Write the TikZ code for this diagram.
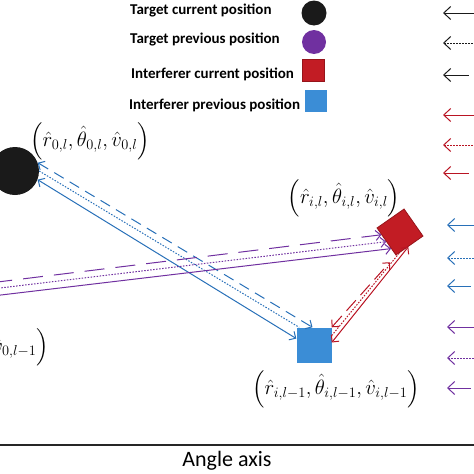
\documentclass[tikz,border=0pt]{standalone}
\usepackage[no-math]{fontspec}
\usepackage{amsmath}
\usepackage{tikz}
\usetikzlibrary{arrows.meta,calc}
\newfontfamily\calibri{Carlito}

\definecolor{tgtblack}{RGB}{26,26,26}
\definecolor{tgtpurple}{RGB}{112,48,160}
\definecolor{intred}{RGB}{194,28,36}
\definecolor{intreddark}{RGB}{150,20,26}
\definecolor{intredline}{RGB}{185,20,35}
\definecolor{intblue}{RGB}{59,141,214}
\definecolor{intblueline}{RGB}{40,112,184}

\tikzset{
  legtext/.style={anchor=base west, inner sep=0pt, font=\calibri\bfseries\fontsize{15}{17}\selectfont},
  mathlbl/.style={inner sep=0pt, font=\fontsize{19.5}{22}\selectfont},
  tgtcur/.style={circle, fill=tgtblack, inner sep=0pt},
  tgtprev/.style={circle, fill=tgtpurple, inner sep=0pt},
  intcur/.style={rectangle, fill=intred, draw=intreddark, line width=0.8pt, inner sep=0pt},
  intprev/.style={rectangle, fill=intblue, inner sep=0pt},
  solidln/.style={line width=1pt},
  dotln/.style={line width=1pt, dash pattern=on 1.5pt off 1.5pt},
  dashln/.style={line width=1pt, dash pattern=on 11pt off 7pt},
  legarr/.style={line width=1pt, arrows={Straight Barb[length=7pt,width=13pt]-}}
}

\begin{document}
\begin{tikzpicture}[x=1pt, y=-1pt, >={Straight Barb[length=5pt,width=10pt]}]
\useasboundingbox (0,0) rectangle (474,474);
\clip (0,0) rectangle (474,474);

    % Legend
    \node[legtext] (lgtc) at (130,14) {Target current position};
    \node[legtext] (lgtp) at (130,43) {Target previous position};
    \node[legtext] (lgic) at (131,78) {Interferer current position};
    \node[legtext] (lgip) at (129,109) {Interferer previous position};
    \node[tgtcur, minimum size=25pt] (mtc) at (314,13) {};
    \node[tgtprev, minimum size=24pt] (mtp) at (314,42) {};
    \node[intcur, minimum size=22pt] (mic) at (313,70) {};
    \node[intprev, minimum size=22pt] (mip) at (316,101) {};

    % Legend arrows (cut at the right edge)
    \draw[tgtblack, legarr, solidln] (443,13) -- (474,13);
    \draw[tgtblack, legarr, dotln] (443,43) -- (474,43);
    \draw[tgtblack, legarr, dash pattern=on 25pt off 10pt] (443,75) -- (474,75);
    \draw[intredline, legarr, solidln] (443,115) -- (474,115);
    \draw[intredline, legarr, dotln] (443,145) -- (474,145);
    \draw[intredline, legarr, dash pattern=on 25pt off 10pt] (443,173) -- (474,173);
    \draw[intblueline, legarr, solidln] (447,225) -- (474,225);
    \draw[intblueline, legarr, dotln] (447,258) -- (474,258);
    \draw[intblueline, legarr, dash pattern=on 23pt off 10pt] (447,286) -- (474,286);
    \draw[tgtpurple, legarr, solidln] (447,327) -- (474,327);
    \draw[tgtpurple, legarr, dotln] (447,358) -- (474,358);
    \draw[tgtpurple, legarr, dash pattern=on 23pt off 10pt] (447,388) -- (474,388);

    % Positions
    \node[tgtcur, minimum size=48pt] (tcur) at (15,171) {};
    \coordinate (tprev) at (-100,300);
    \node[intcur, minimum size=33pt, rotate=35] (icur) at (400,232) {};
    \node[intprev, minimum size=35pt] (iprev) at (314,345) {};

    % Estimates
    \node[mathlbl] (ltcur) at (90,141) {$\Bigl(\hat{r}_{0,l},\hat{\theta}_{0,l},\hat{v}_{0,l}\Bigr)$};
    \node[mathlbl, anchor=east] (ltprev) at (49,347) {$\Bigl(\hat{r}_{0,l-1},\hat{\theta}_{0,l-1},\hat{v}_{0,l-1}\Bigr)$};
    \node[mathlbl] (licur) at (344,198) {$\Bigl(\hat{r}_{i,l},\hat{\theta}_{i,l},\hat{v}_{i,l}\Bigr)$};
    \node[mathlbl] (liprev) at (336,389) {$\Bigl(\hat{r}_{i,l-1},\hat{\theta}_{i,l-1},\hat{v}_{i,l-1}\Bigr)$};

    % Target current to interferer previous
    \draw[intblueline, dashln, <->] (tcur.20) -- (iprev.95);
    \draw[intblueline, dotln] (tcur.0) -- (iprev.130);
    \draw[intblueline, solidln, <->] (tcur.-21) -- (iprev.160);

    % Target previous to interferer current
    \draw[tgtpurple, dashln, dash pattern=on 20pt off 11pt, ->] ([yshift=6pt]tprev) -- ($(icur.north west)!0.25!(icur.south west)$);
    \draw[tgtpurple, dotln, ->] (tprev) -- (icur.west);
    \draw[tgtpurple, solidln, ->] ([yshift=-7pt]tprev) -- ($(icur.north west)!0.75!(icur.south west)$);

    % Interferer previous to interferer current
    \draw[intredline, dashln, dash pattern=on 14pt off 7pt, <->, shorten >=9pt] (iprev.north east) -- (icur.south west);
    \draw[intredline, dotln] (iprev.28) -- ($(icur.south west)!0.12!(icur.south east)$);
    \draw[intredline, solidln, <->] (iprev.8) -- ($(icur.south west)!0.45!(icur.south east)$);

    % Axis
    \draw[line width=1.5pt, black!85] (0,445) -- (474,445);
    \node[font=\calibri\fontsize{22}{26}\selectfont, inner sep=0pt] (axis) at (227,461) {Angle axis};

\end{tikzpicture}
\end{document}
